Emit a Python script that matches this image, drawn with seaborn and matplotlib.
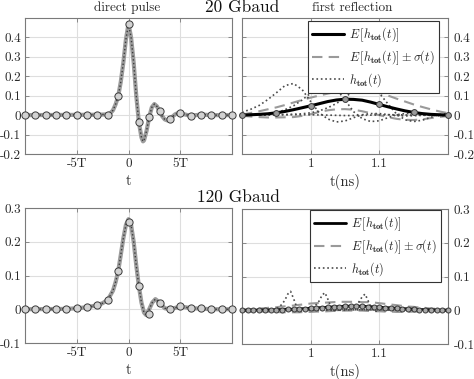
import numpy as np
import matplotlib
matplotlib.use("Agg")
import matplotlib.pyplot as plt
import seaborn as sns

# ---------------- data ----------------
# direct pulse, 20 Gbaud (time in symbol periods T)
t_dir20 = [-10, -3, -2, -1.75, -1.5, -1.25, -1, -0.75, -0.5, -0.25, 0, 0.25, 0.5, 0.75,
           1.0, 1.25, 1.4, 1.5, 1.75, 2.0, 2.25, 2.5, 2.75, 3.0, 3.25, 3.5, 3.75, 4.0,
           4.25, 4.5, 4.75, 5.0, 5.5, 6, 6.5, 7, 8, 10]
h_dir20 = [0, 0.002, 0.004, 0.010, 0.025, 0.055, 0.096, 0.17, 0.27, 0.39, 0.47, 0.40, 0.27, 0.10,
           -0.035, -0.115, -0.135, -0.13, -0.08, -0.01, 0.04, 0.057, 0.045, 0.02, -0.005, -0.022, -0.027, -0.02,
           -0.008, 0.004, 0.01, 0.01, 0.003, -0.004, 0.0, 0.003, 0, 0]
samp_t = [-10, -9, -8, -7, -6, -5, -4, -3, -2, -1, 0, 1, 2, 3, 4, 5, 6, 7, 8, 9, 10]
samp_h20 = [0, 0, 0, 0, 0, 0, 0, 0.003, 0.002, 0.096, 0.47, -0.035, -0.01, 0.02, -0.02, 0.01,
            -0.004, 0.003, 0, 0, 0]

# direct pulse, 120 Gbaud
t_dir120 = [-10, -6, -5, -4, -3, -2.5, -2, -1.5, -1.25, -1, -0.75, -0.5, -0.25, 0, 0.25, 0.5, 0.75,
            1.0, 1.25, 1.5, 1.7, 2.0, 2.3, 2.6, 3.0, 3.5, 4.0, 4.5, 5.0, 5.5, 6, 7, 8, 10]
h_dir120 = [0, 0.001, 0.003, 0.006, 0.012, 0.018, 0.028, 0.055, 0.08, 0.112, 0.16, 0.21, 0.25, 0.267,
            0.25, 0.2, 0.13, 0.069, 0.02, -0.01, -0.017, 0.0, 0.02, 0.03, 0.02, 0.003, 0.0, 0.004,
            0.008, 0.006, 0.003, 0.002, 0.0, 0]
samp_h120 = [0, 0, 0, 0, 0.002, 0.003, 0.006, 0.013, 0.026, 0.112, 0.26, 0.069, -0.015, 0.02, 0.0,
             0.01, 0.003, 0.003, 0.0, 0.0, 0.0]

# first reflection, 20 Gbaud (t in ns)
t_ref20 = [0.9, 0.9125, 0.925, 0.9375, 0.95, 0.9625, 0.975, 0.9875, 1.0, 1.0125, 1.025, 1.0375,
           1.05, 1.0625, 1.075, 1.0875, 1.1, 1.1125, 1.125, 1.1375, 1.15, 1.1625, 1.175, 1.1875, 1.2]
mean20 = [0.000, 0.002, 0.004, 0.007, 0.012, 0.019, 0.028, 0.038, 0.048, 0.059, 0.070, 0.078, 0.082,
          0.081, 0.077, 0.067, 0.055, 0.043, 0.032, 0.022, 0.014, 0.008, 0.004, 0.002, 0.000]
upper20 = [0.003, 0.011, 0.020, 0.030, 0.040, 0.052, 0.065, 0.078, 0.090, 0.101, 0.111, 0.120, 0.127,
           0.131, 0.130, 0.124, 0.115, 0.101, 0.085, 0.070, 0.055, 0.042, 0.030, 0.019, 0.010]
lower20 = [-0.003, -0.007, -0.010, -0.012, -0.012, -0.011, -0.010, -0.004, 0.005, 0.016, 0.025, 0.030,
           0.031, 0.028, 0.020, 0.010, 0.000, -0.010, -0.019, -0.024, -0.025, -0.022, -0.015, -0.009, -0.005]
dot1_20 = [0.015, 0.030, 0.050, 0.080, 0.115, 0.152, 0.163, 0.132, 0.070, 0.012, -0.020, -0.035, -0.030,
           -0.013, 0.002, 0.008, 0.008, 0.003, -0.002, -0.004, -0.003, -0.001, 0.0, 0.001, 0.0]
dot2_20 = [0.0, 0.0, 0.001, 0.004, 0.012, 0.028, 0.048, 0.078, 0.113, 0.148, 0.160, 0.135, 0.078, 0.018,
           -0.018, -0.033, -0.029, -0.013, 0.002, 0.008, 0.007, 0.003, -0.002, -0.003, -0.002]
dot3_20 = [0.0, 0.0, 0.0, 0.0, 0.001, 0.002, 0.004, 0.007, 0.012, 0.022, 0.038, 0.060, 0.090, 0.127,
           0.153, 0.152, 0.113, 0.058, 0.006, -0.024, -0.033, -0.026, -0.011, 0.003, 0.008]
dot4_20 = [0.0, 0.001, 0.002, 0.002, 0.003, 0.003, 0.003, 0.002, 0.002, 0.001, 0.0, -0.001, -0.002,
           -0.002, -0.001, 0.0, 0.001, 0.002, 0.002, 0.001, 0.0, 0.0, 0.0, 0.0, 0.0]
samp_t20 = [0.9, 0.95, 1.0, 1.05, 1.1, 1.15, 1.2]
samp_m20 = [0.0, 0.012, 0.048, 0.082, 0.055, 0.014, 0.0]

# first reflection, 120 Gbaud (sampled every T = 1/120 ns)
t_ref120 = list(np.linspace(0.9, 1.2, 37))
mean120 = [0.000, 0.000, 0.000, 0.001, 0.001, 0.001, 0.002, 0.002, 0.003, 0.003, 0.004, 0.005, 0.006,
           0.007, 0.008, 0.009, 0.010, 0.011, 0.012, 0.012, 0.012, 0.012, 0.011, 0.010, 0.009, 0.008,
           0.007, 0.006, 0.005, 0.004, 0.003, 0.002, 0.002, 0.001, 0.001, 0.000, 0.000]
upper120 = [0.002, 0.003, 0.004, 0.005, 0.006, 0.008, 0.009, 0.011, 0.012, 0.014, 0.016, 0.018, 0.020,
            0.021, 0.022, 0.023, 0.024, 0.025, 0.025, 0.025, 0.025, 0.024, 0.024, 0.023, 0.021, 0.019,
            0.017, 0.015, 0.013, 0.011, 0.010, 0.008, 0.007, 0.005, 0.004, 0.003, 0.002]
lower120 = [-0.002, -0.003, -0.003, -0.004, -0.004, -0.005, -0.005, -0.006, -0.006, -0.006, -0.006,
            -0.005, -0.005, -0.004, -0.004, -0.003, -0.002, -0.001, -0.001, -0.001, -0.001, -0.001,
            -0.002, -0.003, -0.003, -0.004, -0.004, -0.005, -0.005, -0.005, -0.004, -0.004, -0.003,
            -0.003, -0.002, -0.002, -0.001]
dot1_120_t = [0.9, 0.945, 0.95, 0.9542, 0.9583, 0.9625, 0.9667, 0.9708, 0.975, 0.9792, 0.9833, 0.9875,
              0.9917, 0.9958, 1.0, 1.2]
dot1_120_h = [0.0, 0.0, 0.004, 0.010, 0.018, 0.030, 0.048, 0.056, 0.035, 0.012, 0.0, -0.003, 0.002,
              0.004, 0.002, 0.0]
dot2_120_t = [0.9, 0.995, 1.0, 1.0042, 1.0083, 1.0125, 1.0167, 1.0208, 1.025, 1.0292, 1.0333, 1.0375,
              1.0417, 1.0458, 1.05, 1.2]
dot2_120_h = [0.0, 0.0, 0.004, 0.009, 0.017, 0.028, 0.045, 0.052, 0.033, 0.011, 0.0, -0.003, 0.002,
              0.004, 0.002, 0.0]
dot3_120_t = [0.9, 1.053, 1.0583, 1.0625, 1.0667, 1.0708, 1.075, 1.0792, 1.0833, 1.0875, 1.0917,
              1.0958, 1.1, 1.1042, 1.1083, 1.2]
dot3_120_h = [0.0, 0.0, 0.004, 0.008, 0.015, 0.026, 0.040, 0.048, 0.030, 0.010, 0.0, -0.003, 0.002,
              0.004, 0.002, 0.0]

left_xticks = [-5, 0, 5]
left_xticklabels = ["-5T", "0", "5T"]
right_xticks = [1.0, 1.1]
right_xticklabels = ["1", "1.1"]
yticks_top = [-0.2, -0.1, 0, 0.1, 0.2, 0.3, 0.4]
yticklabels_top = ["-0.2", "-0.1", "0", "0.1", "0.2", "0.3", "0.4"]
yticks_bot = [-0.1, 0, 0.1, 0.2, 0.3]
yticklabels_bot = ["-0.1", "0", "0.1", "0.2", "0.3"]
legend_labels = [r"$E\,[h_{\mathbf{tot}}(t)]$", r"$E\,[h_{\mathbf{tot}}(t)] \pm \sigma(t)$",
                 r"$h_{\mathbf{tot}}(t)$"]

# ---------------- style ----------------
sns.set_theme(style="white")
plt.rcParams["font.family"] = ["cmr10", "DejaVu Serif"]
plt.rcParams["mathtext.fontset"] = "cm"
plt.rcParams["axes.unicode_minus"] = False

W, H = 474, 379
fig = plt.figure(figsize=(W / 100, H / 100), dpi=100)


def axes_px(l, t, r, b):
    return fig.add_axes([l / W, 1 - b / H, (r - l) / W, (b - t) / H])


ax_tl = axes_px(25, 18, 232, 154)
ax_tr = axes_px(242, 18, 448, 154)
ax_bl = axes_px(25, 208, 232, 343)
ax_br = axes_px(242, 209, 448, 344)

GRID = "#dedede"
SPINE = "#7a7a7a"
TXT = "#2a2a2a"
C_MEAN = "#000000"
C_DASH = "#9a9a9a"
C_DOT = "#4a4a4a"


def line(ax, x, y, **kw):
    sns.lineplot(x=x, y=y, ax=ax, estimator=None, sort=False, **kw)
    return ax.lines[-1]


def markers(ax, x, y, size=5, face="#d2d2d2"):
    sns.lineplot(x=x, y=y, ax=ax, estimator=None, sort=False, linestyle="", marker="o",
                 markersize=size, markerfacecolor=face, markeredgecolor="#3a3a3a",
                 markeredgewidth=0.7, color="#3a3a3a", clip_on=False, zorder=6)


def style(ax, xlim, ylim, xticks, xtl, yticks, ytl, right_labels, xlabel):
    ax.set_xlim(*xlim)
    ax.set_ylim(*ylim)
    ax.set_xticks(xticks)
    ax.set_xticklabels(xtl)
    ax.set_yticks(yticks)
    ax.set_yticklabels(ytl)
    ax.grid(True, color=GRID, lw=0.8)
    ax.set_axisbelow(True)
    for s in ax.spines.values():
        s.set_color(SPINE)
        s.set_linewidth(0.8)
    ax.tick_params(direction="in", length=3, width=0.6, color=SPINE, labelsize=9.5,
                   labelcolor=TXT, top=True, right=True, bottom=True, left=True, pad=3)
    if right_labels:
        ax.tick_params(axis="y", labelleft=False, labelright=True, pad=4)
    ax.set_xlabel(xlabel, fontsize=10.5, color=TXT, labelpad=3)
    ax.set_ylabel("")


# ---- direct pulses ----
for ax, tt, hh, sh in [(ax_tl, t_dir20, h_dir20, samp_h20), (ax_bl, t_dir120, h_dir120, samp_h120)]:
    line(ax, tt, hh, color="#9c9c9c", lw=3.0)
    line(ax, tt, hh, color="#3c3c3c", lw=1.0, linestyle=":")
    markers(ax, samp_t, sh, size=5.2)

style(ax_tl, (-10, 10), (-0.2, 0.5), left_xticks, left_xticklabels, yticks_top, yticklabels_top,
      False, "t")
style(ax_bl, (-10, 10), (-0.1, 0.3), left_xticks, left_xticklabels, yticks_bot, yticklabels_bot,
      False, "t")

# ---- first reflection, 20 Gbaud ----
hd = line(ax_tr, t_ref20, upper20, color=C_DASH, lw=1.5, linestyle=(0, (5, 3)))
line(ax_tr, t_ref20, lower20, color=C_DASH, lw=1.5, linestyle=(0, (5, 3)))
ht = line(ax_tr, t_ref20, dot1_20, color=C_DOT, lw=1.2, linestyle=":")
for d in (dot2_20, dot3_20, dot4_20):
    line(ax_tr, t_ref20, d, color=C_DOT, lw=1.2, linestyle=":")
hm = line(ax_tr, t_ref20, mean20, color=C_MEAN, lw=2.2)
markers(ax_tr, samp_t20, samp_m20, size=4.2, face="#9a9a9a")
style(ax_tr, (0.9, 1.2), (-0.2, 0.5), right_xticks, right_xticklabels, yticks_top, yticklabels_top,
      True, "t(ns)")

# ---- first reflection, 120 Gbaud ----
hd2 = line(ax_br, t_ref120, upper120, color=C_DASH, lw=1.5, linestyle=(0, (5, 3)))
line(ax_br, t_ref120, lower120, color=C_DASH, lw=1.5, linestyle=(0, (5, 3)))
ht2 = line(ax_br, dot1_120_t, dot1_120_h, color=C_DOT, lw=1.2, linestyle=":")
line(ax_br, dot2_120_t, dot2_120_h, color=C_DOT, lw=1.2, linestyle=":")
line(ax_br, dot3_120_t, dot3_120_h, color=C_DOT, lw=1.2, linestyle=":")
hm2 = line(ax_br, t_ref120, mean120, color=C_MEAN, lw=2.0)
markers(ax_br, t_ref120, mean120, size=3.6, face="#a8a8a8")
style(ax_br, (0.9, 1.2), (-0.1, 0.3), right_xticks, right_xticklabels, yticks_bot, yticklabels_bot,
      True, "t(ns)")

for ax, handles, anchor in [(ax_tr, [hm, hd, ht], (0.956, 0.978)),
                            (ax_br, [hm2, hd2, ht2], (0.966, 0.993))]:
    leg = ax.legend(handles, legend_labels, loc="upper right", bbox_to_anchor=anchor,
                    borderaxespad=0, fontsize=8.8, handlelength=2.6, handletextpad=0.4,
                    labelspacing=0.35, borderpad=0.35, fancybox=False, framealpha=1,
                    edgecolor="#333333")
    leg.get_frame().set_linewidth(0.8)

# ---- titles ----
fig.text(127 / W, 1 - 11 / H, "direct pulse", ha="center", va="baseline", fontsize=9.5, color=TXT)
fig.text(352 / W, 1 - 11 / H, "first reflection", ha="center", va="baseline", fontsize=9.5, color=TXT)
fig.text(242 / W, 1 - 12.5 / H, "20 Gbaud", ha="center", va="baseline", fontsize=12.5, color="#111111")
fig.text(238 / W, 1 - 202 / H, "120 Gbaud", ha="center", va="baseline", fontsize=12.5, color="#111111")

fig.savefig("out.png", dpi=100)
